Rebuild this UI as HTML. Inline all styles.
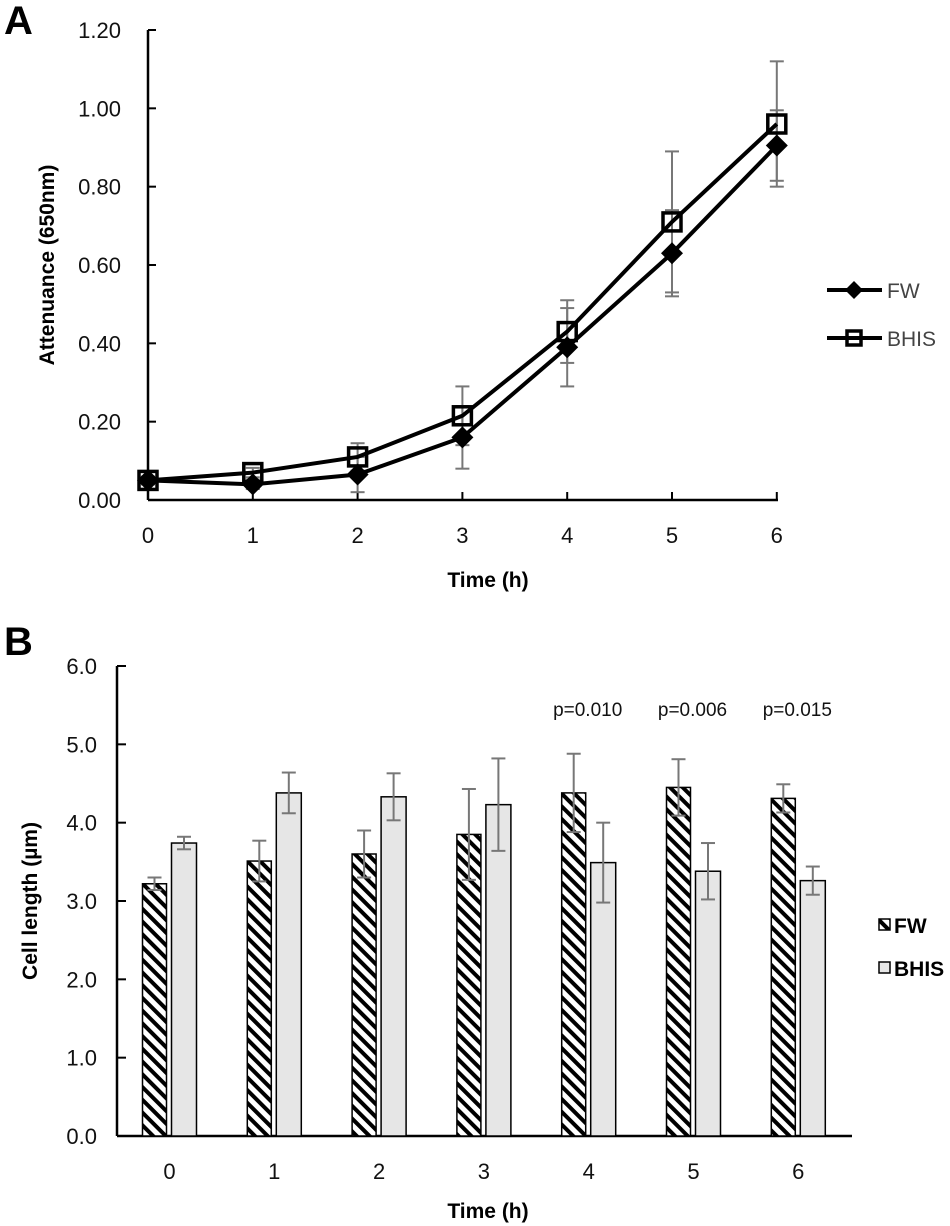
<!DOCTYPE html>
<html><head><meta charset="utf-8"><style>
body{margin:0;background:#fff}
svg{display:block;font-family:"Liberation Sans",sans-serif}
</style></head><body>
<svg width="950" height="1226" viewBox="0 0 950 1226">
<defs>
<pattern id="hatch" patternUnits="userSpaceOnUse" width="9" height="9" patternTransform="rotate(45)">
<rect width="9" height="9" fill="#fff"/><rect x="0" y="0" width="9" height="4" fill="#000"/>
</pattern>
</defs>
<text x="4" y="34" font-size="40" font-weight="bold">A</text>
<text x="4" y="655" font-size="40" font-weight="bold">B</text>
<g id="ga"></g>
<g id="gb"></g>
</svg>
<script>
const timesA = [0,1,2,3,4,5,6];
const fwA = [0.05,0.04,0.065,0.16,0.39,0.63,0.905];
const fwAErr = [0.01,0.012,0.045,0.08,0.10,0.11,0.09];
const bhisA = [0.05,0.07,0.11,0.215,0.43,0.71,0.96];
const bhisAErr = [0.01,0.012,0.035,0.075,0.08,0.18,0.16];
const ticksA = ["0.00","0.20","0.40","0.60","0.80","1.00","1.20"];

const catsB = ["0","1","2","3","4","5","6"];
const fwB = [3.22,3.51,3.60,3.85,4.38,4.45,4.31];
const fwBErr = [0.08,0.26,0.30,0.58,0.50,0.36,0.18];
const bhisB = [3.74,4.38,4.33,4.23,3.49,3.38,3.26];
const bhisBErr = [0.08,0.26,0.30,0.59,0.51,0.36,0.18];
const pLabels = ["","","","","p=0.010","p=0.006","p=0.015"];
const ticksB = ["0.0","1.0","2.0","3.0","4.0","5.0","6.0"];

const NS="http://www.w3.org/2000/svg";
function mk(parent,tag,attrs,text){const e=document.createElementNS(NS,tag);for(const k in attrs)e.setAttribute(k,attrs[k]);if(text!==undefined)e.textContent=text;parent.appendChild(e);return e;}

// Panel A
const ga=document.getElementById('ga');
const xA=t=>148+t*104.8;
const yA=v=>500-v*(470/1.2);
let ax=mk(ga,'line',{x1:148,y1:30,x2:148,y2:500,stroke:'#000','stroke-width':2.5});


ax=mk(ga,'line',{x1:148,y1:500,x2:778,y2:500,stroke:'#000','stroke-width':2.5});


ticksA.forEach(t=>{const v=parseFloat(t);
 mk(ga,'line',{x1:148,x2:156,y1:yA(v),y2:yA(v),stroke:'#000','stroke-width':2});
 const e=mk(ga,'text',{x:121,y:yA(v)+8,'font-size':22,'text-anchor':'end',fill:'#111'},t);
 
 });
timesA.forEach(t=>{mk(ga,'line',{x1:xA(t),x2:xA(t),y1:492,y2:500,stroke:'#000','stroke-width':2});
 const e=mk(ga,'text',{x:xA(t),y:543,'font-size':22,'text-anchor':'middle',fill:'#111'},t);
 
 });
let tt=mk(ga,'text',{x:488,y:587,'font-size':21,'font-weight':'bold','text-anchor':'middle'},'Time (h)');


tt=mk(ga,'text',{x:0,y:0,'font-size':21,'font-weight':'bold','text-anchor':'middle',transform:'translate(54,265) rotate(-90)'},'Attenuance (650nm)');


function errA(vals,errs){timesA.forEach((t,i)=>{const x=xA(t),y1=yA(vals[i]-errs[i]),y2=yA(vals[i]+errs[i]);
 mk(ga,'line',{x1:x,x2:x,y1:y1,y2:y2,stroke:'#777','stroke-width':2});
 mk(ga,'line',{x1:x-7,x2:x+7,y1:y1,y2:y1,stroke:'#777','stroke-width':2});
 mk(ga,'line',{x1:x-7,x2:x+7,y1:y2,y2:y2,stroke:'#777','stroke-width':2});});}
errA(fwA,fwAErr);errA(bhisA,bhisAErr);
let l=mk(ga,'polyline',{points:timesA.map((t,i)=>xA(t)+','+yA(fwA[i])).join(' '),fill:'none',stroke:'#000','stroke-width':4});


l=mk(ga,'polyline',{points:timesA.map((t,i)=>xA(t)+','+yA(bhisA[i])).join(' '),fill:'none',stroke:'#000','stroke-width':4});


timesA.forEach((t,i)=>{const x=xA(t),y=yA(fwA[i]);
 const d=mk(ga,'polygon',{points:`${x},${y-11} ${x+11},${y} ${x},${y+11} ${x-11},${y}`,fill:'#000'});
 
 
 const y2=yA(bhisA[i]);
 const s=mk(ga,'rect',{x:x-9,y:y2-9,width:18,height:18,fill:'none',stroke:'#000','stroke-width':3.5});
 
 });
// legend A
let lg=mk(ga,'g',{});


mk(lg,'line',{x1:827,x2:882,y1:290,y2:290,stroke:'#000','stroke-width':4});
mk(lg,'polygon',{points:'854,281 863,290 854,299 845,290',fill:'#000'});
mk(lg,'text',{x:887,y:298,'font-size':21,fill:'#444'},'FW');
mk(lg,'line',{x1:827,x2:882,y1:338,y2:338,stroke:'#000','stroke-width':4});
mk(lg,'rect',{x:847,y:331,width:14,height:14,fill:'none',stroke:'#000','stroke-width':3.5});
mk(lg,'text',{x:887,y:346,'font-size':21,fill:'#444'},'BHIS');

// Panel B
const gb=document.getElementById('gb');
const xB=i=>117+52.5+i*104.8;
const yB=v=>1136-v*(470/6);
ax=mk(gb,'line',{x1:117,y1:666,x2:117,y2:1136,stroke:'#000','stroke-width':2.5});


ax=mk(gb,'line',{x1:117,y1:1136,x2:852,y2:1136,stroke:'#000','stroke-width':2.5});


ticksB.forEach(t=>{const v=parseFloat(t);
 mk(gb,'line',{x1:117,x2:126,y1:yB(v),y2:yB(v),stroke:'#000','stroke-width':2});
 const e=mk(gb,'text',{x:97,y:yB(v)+8,'font-size':22,'text-anchor':'end',fill:'#111'},t);
 
 });
catsB.forEach((c,i)=>{
 const e=mk(gb,'text',{x:xB(i),y:1179,'font-size':22,'text-anchor':'middle',fill:'#111'},c);
 
 
 const x=xB(i);
 const b1=mk(gb,'rect',{x:x-27,y:yB(fwB[i]),width:24,height:yB(0)-yB(fwB[i]),fill:'url(#hatch)',stroke:'#000','stroke-width':1.5});
 
 
 const b2=mk(gb,'rect',{x:x+2,y:yB(bhisB[i]),width:25,height:yB(0)-yB(bhisB[i]),fill:'#e6e6e6',stroke:'#000','stroke-width':1.5});
 
 
 [[x-15,fwB[i],fwBErr[i]],[x+14.5,bhisB[i],bhisBErr[i]]].forEach(([ex,v,er])=>{
  const y1=yB(v-er),y2=yB(v+er);
  mk(gb,'line',{x1:ex,x2:ex,y1:y1,y2:y2,stroke:'#777','stroke-width':2});
  mk(gb,'line',{x1:ex-7,x2:ex+7,y1:y1,y2:y1,stroke:'#777','stroke-width':2});
  mk(gb,'line',{x1:ex-7,x2:ex+7,y1:y2,y2:y2,stroke:'#777','stroke-width':2});});
 if(pLabels[i]){const p=mk(gb,'text',{x:x-1,y:716,'font-size':19,'text-anchor':'middle',fill:'#111'},pLabels[i]);
  
  }
});
tt=mk(gb,'text',{x:488,y:1218,'font-size':21,'font-weight':'bold','text-anchor':'middle'},'Time (h)');


tt=mk(gb,'text',{x:0,y:0,'font-size':21,'font-weight':'bold','text-anchor':'middle',transform:'translate(37,901) rotate(-90)'},'Cell length (µm)');


lg=mk(gb,'g',{});


mk(lg,'rect',{x:879,y:919,width:11,height:11,fill:'url(#hatch)',stroke:'#000','stroke-width':1.5});
mk(lg,'text',{x:894,y:933,'font-size':21,'font-weight':'bold'},'FW');
mk(lg,'rect',{x:879,y:962,width:11,height:11,fill:'#e6e6e6',stroke:'#000','stroke-width':1.5});
mk(lg,'text',{x:894,y:976,'font-size':21,'font-weight':'bold'},'BHIS');
</script>
</body></html>
